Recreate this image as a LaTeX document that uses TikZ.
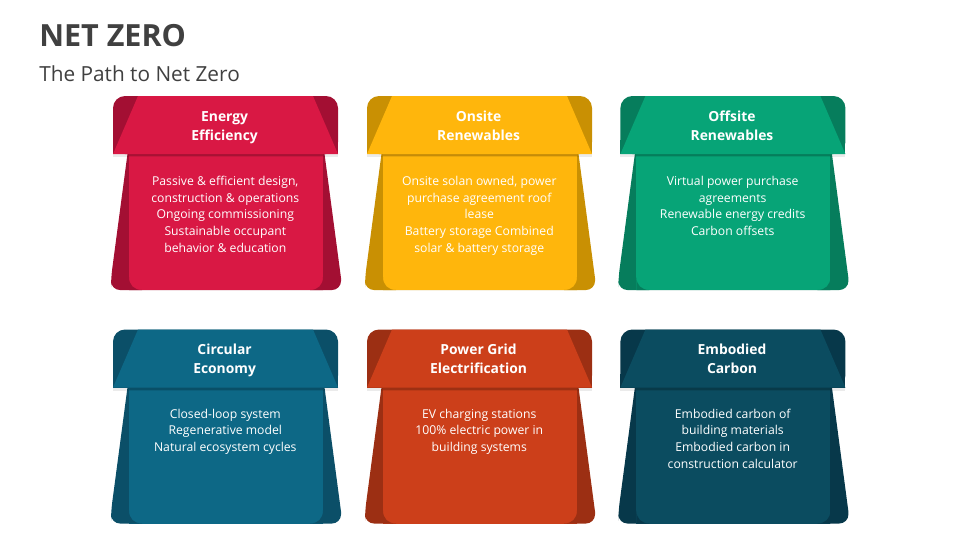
\documentclass[tikz,border=0pt]{standalone}
\usepackage{fontspec}
\setmainfont{Open Sans}
\definecolor{titlec}{HTML}{404040}
\definecolor{redm}{HTML}{D91844}\definecolor{redd}{HTML}{A30F33}
\definecolor{yelm}{HTML}{FFB60C}\definecolor{yeld}{HTML}{C99003}
\definecolor{grnm}{HTML}{07A477}\definecolor{grnd}{HTML}{067D5C}
\definecolor{blum}{HTML}{0D6886}\definecolor{blud}{HTML}{0B4F68}
\definecolor{orgm}{HTML}{CC3F1A}\definecolor{orgd}{HTML}{9C2F13}
\definecolor{navm}{HTML}{0B4C60}\definecolor{navd}{HTML}{07384A}
\tikzset{
  x=0.75pt,y=-0.75pt,
  headtxt/.style={text=white,font=\fontsize{10.4pt}{14.3pt}\selectfont\bfseries,align=center,anchor=center},
  bodytxt/.style={text=white,font=\fontsize{9.15pt}{12.45pt}\selectfont,align=center,anchor=north,inner sep=0pt},
}
\newcommand{\card}[8]{%
% #1 x-offset, #2 y-offset, #3 main, #4 dark, #5 name, #6 heading, #7 body, #8 body y
\begin{scope}[shift={(#1,#2)}]
  \fill[#4] (128,150) -- (324,150) -- (341,278) [rounded corners=6.75pt] -- (341,290) -- (111,290) -- (111,278) [sharp corners] -- cycle;
  \fill[#3] (129,150) -- (323,150) -- (323,290) -- (129,290) -- cycle;
  \fill[#4] (129,290) -- (129,277) .. controls (129,285) and (134,290) .. (142,290) -- cycle;
  \fill[#4] (323,290) -- (323,277) .. controls (323,285) and (318,290) .. (310,290) -- cycle;
  % shadow under the header
  \fill[black,opacity=.08] (113,154) rectangle (338,157);
  \fill[black,opacity=.16] (129,154) rectangle (323,156);
  % header back and front
  \fill[#4,rounded corners=9pt] (113,154) -- (113,96) -- (338,96) -- (338,154) -- cycle;
  \fill[#4] (113,140) rectangle (338,154);
  \fill[#3] (138,96) -- (313,96) -- (338,154) -- (113,154) -- cycle;
  \node[headtxt] (#5h) at (224.6,126) {\rule{0pt}{10pt}#6\rule[-3pt]{0pt}{3pt}};
  \node[bodytxt] (#5b) at (225.3,#8) {\rule{0pt}{10pt}#7};
\end{scope}}
\begin{document}
\begin{tikzpicture}
\useasboundingbox (0,0) rectangle (960,540);
\node[anchor=base west,inner sep=0,text=titlec,font=\fontsize{22.9pt}{28pt}\selectfont\bfseries] (title) at (39,46) {NET ZERO};
\node[anchor=base west,inner sep=0,text=titlec,font=\fontsize{15.6pt}{18pt}\selectfont] (subtitle) at (39,81) {The Path to Net Zero};
\card{0}{0}{redm}{redd}{a}{Energy\\Efficiency}{Passive \& efficient design,\\construction \& operations\\Ongoing commissioning\\Sustainable occupant\\behavior \& education}{172}
\card{254}{0}{yelm}{yeld}{b}{Onsite\\Renewables}{Onsite solan owned, power\\purchase agreement roof\\lease\\Battery storage Combined\\solar \& battery storage}{172}
\card{507.4}{0}{grnm}{grnd}{c}{Offsite\\Renewables}{Virtual power purchase\\agreements\\Renewable energy credits\\Carbon offsets}{172}
\card{0}{233.5}{blum}{blud}{d}{Circular\\Economy}{Closed-loop system\\Regenerative model\\Natural ecosystem cycles}{171.2}
\card{254}{233.5}{orgm}{orgd}{e}{Power Grid\\Electrification}{EV charging stations\\100\% electric power in\\building systems}{171.2}
\card{507.4}{233.5}{navm}{navd}{f}{Embodied\\Carbon}{Embodied carbon of\\building materials\\Embodied carbon in\\construction calculator}{171.2}
\end{tikzpicture}
\end{document}
